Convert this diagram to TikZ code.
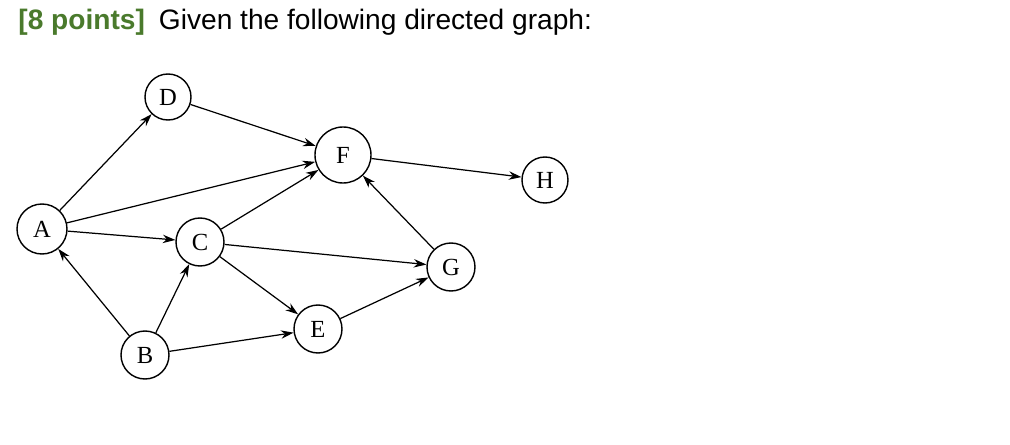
\documentclass[tikz,border=0pt]{standalone}
\usepackage{fontspec}
\setmainfont{Liberation Serif}
\newfontfamily\headfont{Liberation Sans}
\usetikzlibrary{arrows.meta}
\definecolor{ptsgreen}{HTML}{4A7A2C}

\begin{document}
\begin{tikzpicture}[
  vertex/.style={draw, circle, line width=0.4pt, inner sep=0pt, font=\fontsize{7pt}{8pt}\selectfont},
  edge/.style={line width=0.35pt, -{Stealth[length=3.6pt,width=2.4pt]}}]
\useasboundingbox (0,0) rectangle (10.10,4.44);
\node [anchor=west, font=\headfont\fontsize{8pt}{9.5pt}\selectfont] (title) at (0.06,4.22)
  {\textcolor{ptsgreen}{\bfseries [8 points]}\enspace Given the following directed graph:};
\node [vertex, minimum size=0.46cm] (D) at (1.68,3.47) {D};
\node [vertex, minimum size=0.56cm] (F) at (3.43,2.89) {F};
\node [vertex, minimum size=0.46cm] (H) at (5.45,2.64) {H};
\node [vertex, minimum size=0.50cm] (A) at (0.42,2.15) {A};
\node [vertex, minimum size=0.48cm] (C) at (2.00,2.02) {C};
\node [vertex, minimum size=0.48cm] (G) at (4.51,1.77) {G};
\node [vertex, minimum size=0.48cm] (E) at (3.18,1.15) {E};
\node [vertex, minimum size=0.48cm] (B) at (1.45,0.89) {B};
\draw [edge] (A) -- (D);
\draw [edge] (D) -- (F);
\draw [edge] (A) -- (F);
\draw [edge] (F) -- (H);
\draw [edge] (A) -- (C);
\draw [edge] (C) -- (F);
\draw [edge] (C) -- (G);
\draw [edge] (C) -- (E);
\draw [edge] (G) -- (F);
\draw [edge] (E) -- (G);
\draw [edge] (B) -- (A);
\draw [edge] (B) -- (C);
\draw [edge] (B) -- (E);
\end{tikzpicture}
\end{document}
